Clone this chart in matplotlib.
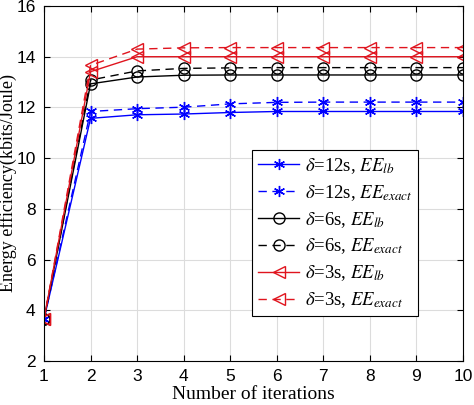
import numpy as np
import matplotlib
matplotlib.use('Agg')
import matplotlib.pyplot as plt

# data
iterations = [1, 2, 3, 4, 5, 6, 7, 8, 9, 10]
ee_lb_12 = [3.65, 11.57, 11.71, 11.74, 11.80, 11.84, 11.84, 11.84, 11.84, 11.84]
ee_exact_12 = [3.65, 11.84, 11.95, 12.01, 12.14, 12.20, 12.21, 12.21, 12.21, 12.21]
ee_lb_6 = [3.65, 12.93, 13.20, 13.27, 13.28, 13.28, 13.28, 13.28, 13.28, 13.28]
ee_exact_6 = [3.65, 13.08, 13.44, 13.54, 13.56, 13.57, 13.57, 13.57, 13.57, 13.57]
ee_lb_3 = [3.65, 13.41, 14.00, 14.00, 14.00, 14.00, 14.00, 14.00, 14.00, 14.00]
ee_exact_3 = [3.65, 13.66, 14.30, 14.35, 14.36, 14.36, 14.36, 14.36, 14.36, 14.36]

plt.rcParams['mathtext.fontset'] = 'stix'

fig = plt.figure(figsize=(4.74, 4.05), dpi=100)
ax = fig.add_axes([44 / 474, 44 / 405, 419 / 474, 355 / 405])

star = (6, 2, 0)
ax.plot(iterations, ee_lb_12, '-', color='blue', marker=star, ms=8, mew=1.0,
        lw=1.0, label=r'$\delta$=12s, $EE_{lb}$')
ax.plot(iterations, ee_exact_12, '--', color='blue', marker=star, ms=8, mew=1.0,
        lw=1.0, dashes=(6, 4), label=r'$\delta$=12s, $EE_{exact}$')
ax.plot(iterations, ee_lb_6, '-', color='black', marker='o', ms=8, mfc='none',
        lw=1.0, label=r'$\delta$=6s, $EE_{lb}$')
ax.plot(iterations, ee_exact_6, '--', color='black', marker='o', ms=8, mfc='none',
        lw=1.0, dashes=(6, 4), label=r'$\delta$=6s, $EE_{exact}$')
ax.plot(iterations, ee_lb_3, '-', color='#e0141e', marker='<', ms=9, mfc='none',
        lw=1.0, label=r'$\delta$=3s, $EE_{lb}$')
ax.plot(iterations, ee_exact_3, '--', color='#e0141e', marker='<', ms=9, mfc='none',
        lw=1.0, dashes=(6, 4), label=r'$\delta$=3s, $EE_{exact}$')

ax.set_xlim(1, 10)
ax.set_ylim(2, 16)
ax.set_xticks(range(1, 11))
ax.set_yticks(range(2, 17, 2))
ax.grid(True, color='#dcdcdc', lw=0.8)
ax.tick_params(direction='in', top=True, right=True, labelsize=12.5, length=4, pad=6)
for lbl in ax.get_xticklabels() + ax.get_yticklabels():
    lbl.set_family('Liberation Sans')

ax.set_xlabel('Number of iterations', family='Liberation Serif', fontsize=14, labelpad=1)
ax.set_ylabel('Energy efficiency(kbits/Joule)', family='Liberation Serif', fontsize=13)
ax.yaxis.set_label_coords(-27 / 419, 0.5)

leg = ax.legend(loc='lower right', bbox_to_anchor=(418 / 474, 89 / 405),
                bbox_transform=fig.transFigure, prop={'family': 'Liberation Serif', 'size': 13.5},
                fancybox=False, edgecolor='black', framealpha=1, handlelength=2.2,
                labelspacing=0.38, borderpad=0.3, handletextpad=0.3, borderaxespad=0)
leg.get_frame().set_linewidth(0.8)

fig.savefig('out.png', dpi=100)
